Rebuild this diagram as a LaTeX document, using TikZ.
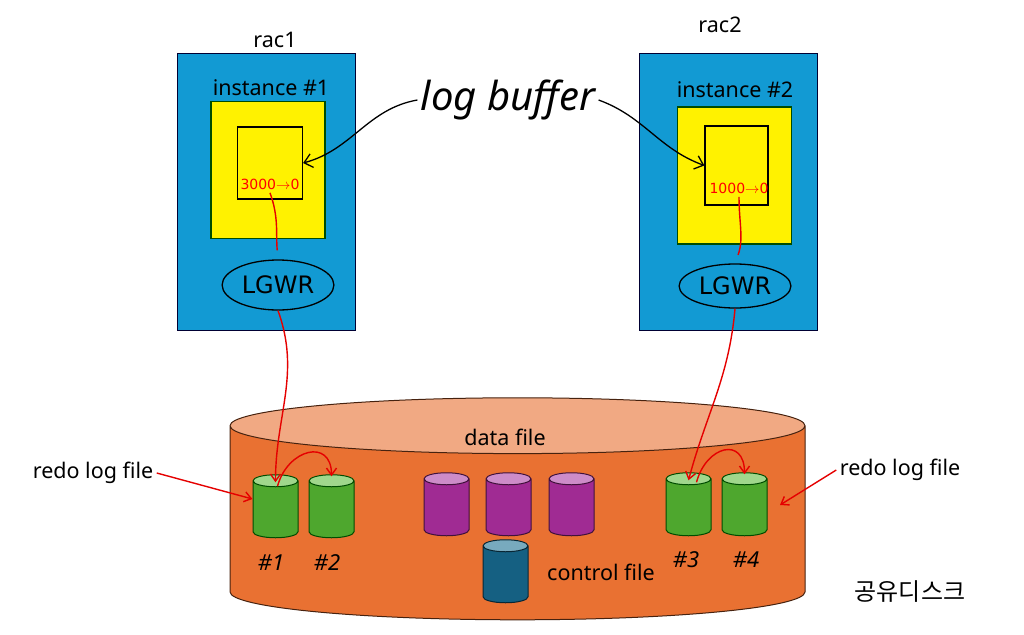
\documentclass[tikz,border=0pt]{standalone}
\usepackage{fontspec}
\setmainfont{Noto Sans}
\newfontfamily\krfont{Noto Sans CJK KR}
\newfontfamily\handfont{DejaVu Sans}
\usetikzlibrary{shapes.geometric,arrows.meta,positioning}

\definecolor{racblue}{RGB}{18,154,211}
\definecolor{diskside}{RGB}{233,113,50}
\definecolor{disktop}{RGB}{241,169,131}
\definecolor{redogreen}{RGB}{78,167,46}
\definecolor{redotop}{RGB}{160,215,140}
\definecolor{datapurple}{RGB}{160,43,147}
\definecolor{datatop}{RGB}{205,140,200}
\definecolor{ctlblue}{RGB}{21,96,130}
\definecolor{ctltop}{RGB}{120,170,190}

\tikzset{
  racbox/.style={draw=black!80!blue, fill=racblue, line width=1pt, minimum width=178pt, minimum height=276pt},
  sgabox/.style={draw=black!70!green, fill=yellow, line width=1.2pt, minimum width=114pt, minimum height=137pt},
  bufbox/.style={draw=black, line width=1.3pt},
  lgwr/.style={ellipse, draw=black, line width=1.3pt, minimum width=107pt, minimum height=50pt, font=\handfont\fontsize{24}{24}\selectfont},
  lbl/.style={font=\fontsize{21.5}{24}\selectfont},
  hand/.style={font=\fontsize{22}{24}\selectfont\itshape},
  file/.style={cylinder, shape border rotate=90, inner sep=3pt, aspect=2, draw, line width=1pt,
    cylinder uses custom fill, minimum width=45pt, minimum height=63pt},
  redo/.style={file, draw=green!30!black, cylinder body fill=redogreen, cylinder end fill=redotop},
  data/.style={file, draw=black!60!datapurple, cylinder body fill=datapurple, cylinder end fill=datatop},
  ctl/.style={file, draw=black!60!ctlblue, cylinder body fill=ctlblue, cylinder end fill=ctltop},
  redline/.style={red!90!black, line width=1.4pt},
  redarrow/.style={redline, -{Straight Barb[length=7pt,width=10pt]}},
  inkarrow/.style={black, line width=1.3pt, -{Straight Barb[length=8pt,width=14pt]}}
}

\begin{document}
\begin{tikzpicture}[x=1pt,y=-1pt]
\useasboundingbox (0,0) rectangle (1024,634);

% nodes on rac1
\node[racbox] (rac1) at (266,192) {};
\node[lbl] (rac1lbl) at (275,40) {rac1};
\node[lbl] (inst1) at (271,88) {instance \#1};
\node[sgabox] (sga1) at (268,170) {};
\node[bufbox, minimum width=65pt, minimum height=72pt] (buf1) at (270,163) {};
\node[red, font=\handfont\fontsize{14}{15}\selectfont] (scn1) at (270,184) {3000$\to$0};
\node[lgwr] (lgwr1) at (278,285) {LGWR};

% nodes on rac2
\node[racbox] (rac2) at (728.5,192) {};
\node[lbl] (rac2lbl) at (720,25) {rac2};
\node[lbl] (inst2) at (735,90) {instance \#2};
\node[sgabox] (sga2) at (734.5,175.5) {};
\node[bufbox, minimum width=63pt, minimum height=79pt] (buf2) at (736.5,165.5) {};
\node[red, font=\handfont\fontsize{14}{15}\selectfont] (scn2) at (739,188) {1000$\to$0};
\node[lgwr, minimum height=44pt] (lgwr2) at (735,286) {LGWR};

\node[font=\fontsize{40}{40}\selectfont\itshape] (logbuf) at (508,100) {log buffer};

% shared disk
\node[cylinder, shape border rotate=90, inner sep=3pt, aspect=9.3, draw=black!70!diskside, line width=1pt,
  cylinder uses custom fill, cylinder body fill=diskside, cylinder end fill=disktop,
  minimum width=575pt, minimum height=222pt] (disk) at (517.5,525) {};
\node[lbl] (datalbl) at (505,437) {data file};

\node[redo] (g1) at (275.5,511) {};
\node[redo] (g2) at (331.5,511) {};
\node[data] (p1) at (446.5,509) {};
\node[data] (p2) at (508.5,509) {};
\node[data] (p3) at (571.5,509) {};
\node[ctl] (c1) at (505.5,576) {};
\node[redo] (g3) at (688.5,509) {};
\node[redo] (g4) at (744.5,509) {};

\node[hand] (n1) at (271,563) {\#1};
\node[hand] (n2) at (327,563) {\#2};
\node[hand] (n3) at (686,560) {\#3};
\node[hand] (n4) at (746,560) {\#4};
\node[lbl] (ctllbl) at (601,572) {control file};

\node[lbl] (redoL) at (93,473) {redo log file};
\node[lbl] (redoR) at (900,470) {redo log file};
\node[font=\krfont\fontsize{24}{26}\selectfont] (share) at (910,592) {공유디스크};
\coordinate (redoRend) at (780,505);

% connectors
\draw[inkarrow] (logbuf.west) to[out=190,in=15] (buf1.east);
\draw[inkarrow] (logbuf.east) to[out=-20,in=160] (buf2.west);
\draw[redline, shorten >=9pt] (scn1.south) to[out=-70,in=95] (lgwr1.north);
\draw[redline, shorten >=9pt] (scn2.south) to[out=-90,in=70] (lgwr2.north);
\draw[redarrow] (lgwr1.south) to[out=-70,in=90] ([yshift=-8pt]g1.north);
\draw[redarrow] (lgwr2.south) to[out=-95,in=75] ([yshift=-8pt]g3.north);
\draw[redarrow] ([xshift=2pt,yshift=-12pt]g1.north) to[out=75,in=90,looseness=1.8] ([yshift=-2pt]g2.north);
\draw[redarrow] ([xshift=8pt,yshift=-10pt]g3.north) to[out=75,in=90,looseness=2] ([yshift=-2pt]g4.north);
\draw[redarrow] (redoL.east) -- ([yshift=12pt]g1.west);
\draw[redarrow] (redoR.west) -- (redoRend);
\end{tikzpicture}
\end{document}
